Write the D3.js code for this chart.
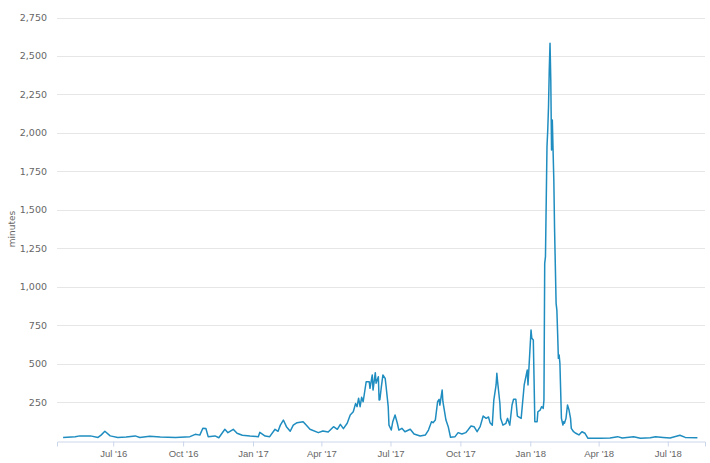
<!DOCTYPE html>
<html lang='en'>

<head>
    <meta charset='UTF-8'>
    <title>minutes</title>
    <script src='https://d3js.org/d3.v7.min.js' charset='utf-8'></script>
    <style>
        body {
            margin: 0px;
            overflow: hidden;
            background: #ffffff;
            font-family: 'Lucida Grande', 'DejaVu Sans', sans-serif;
        }

        #chart text {
            fill: #666666;
            font-size: 9.5px;
        }
    </style>
</head>

<body>
    <div id='chart'></div>
    <script>
        'use strict';

        const days = [
            '2016-04-26', '2016-05-12', '2016-05-18', '2016-06-01', '2016-06-11', '2016-06-15', '2016-06-20',
            '2016-06-27', '2016-07-07', '2016-07-18', '2016-07-30', '2016-08-05', '2016-08-18', '2016-09-01',
            '2016-09-21', '2016-10-10', '2016-10-17', '2016-10-23', '2016-10-27', '2016-10-31', '2016-11-03',
            '2016-11-12', '2016-11-17', '2016-11-25', '2016-11-29', '2016-12-06', '2016-12-11', '2016-12-18',
            '2016-12-28', '2017-01-08', '2017-01-10', '2017-01-17', '2017-01-23', '2017-01-30', '2017-02-03',
            '2017-02-06', '2017-02-10', '2017-02-14', '2017-02-19', '2017-02-23', '2017-02-28', '2017-03-08',
            '2017-03-12', '2017-03-17', '2017-03-28', '2017-04-03', '2017-04-10', '2017-04-17', '2017-04-22',
            '2017-04-26', '2017-04-30', '2017-05-05', '2017-05-09', '2017-05-13', '2017-05-16', '2017-05-18',
            '2017-05-20', '2017-05-22', '2017-05-24', '2017-05-26', '2017-05-30', '2017-06-03', '2017-06-04',
            '2017-06-07', '2017-06-08', '2017-06-11', '2017-06-12', '2017-06-15', '2017-06-16', '2017-06-17',
            '2017-06-19', '2017-06-21', '2017-06-24', '2017-06-25', '2017-06-28', '2017-06-29', '2017-07-02',
            '2017-07-04', '2017-07-07', '2017-07-10', '2017-07-12', '2017-07-16', '2017-07-20', '2017-07-27',
            '2017-08-01', '2017-08-09', '2017-08-16', '2017-08-20', '2017-08-24', '2017-08-26', '2017-08-29',
            '2017-09-01', '2017-09-03', '2017-09-04', '2017-09-07', '2017-09-08', '2017-09-12', '2017-09-15',
            '2017-09-18', '2017-09-24', '2017-09-28', '2017-10-03', '2017-10-08', '2017-10-11', '2017-10-15',
            '2017-10-19', '2017-10-23', '2017-10-27', '2017-10-31', '2017-11-04', '2017-11-07', '2017-11-09',
            '2017-11-12', '2017-11-14', '2017-11-17', '2017-11-18', '2017-11-19', '2017-11-22', '2017-11-23',
            '2017-11-26', '2017-11-30', '2017-12-02', '2017-12-05', '2017-12-08', '2017-12-10', '2017-12-13',
            '2017-12-15', '2017-12-20', '2017-12-24', '2017-12-28', '2017-12-29', '2018-01-02', '2018-01-03',
            '2018-01-05', '2018-01-06', '2018-01-07', '2018-01-10', '2018-01-11', '2018-01-14', '2018-01-16',
            '2018-01-18', '2018-01-19', '2018-01-20', '2018-01-21', '2018-01-23', '2018-01-24', '2018-01-25',
            '2018-01-26', '2018-01-27', '2018-01-28', '2018-01-29', '2018-01-30', '2018-01-31', '2018-02-01',
            '2018-02-02', '2018-02-04', '2018-02-05', '2018-02-06', '2018-02-07', '2018-02-08', '2018-02-09',
            '2018-02-11', '2018-02-13', '2018-02-14', '2018-02-15', '2018-02-17', '2018-02-19', '2018-02-21',
            '2018-02-23', '2018-02-24', '2018-02-27', '2018-03-02', '2018-03-06', '2018-03-10', '2018-03-14',
            '2018-03-18', '2018-03-23', '2018-04-03', '2018-04-16', '2018-04-26', '2018-05-02', '2018-05-17',
            '2018-05-26', '2018-06-08', '2018-06-15', '2018-06-25', '2018-07-04', '2018-07-17', '2018-07-24',
            '2018-08-09'
        ];

        const minutes = [
            20, 25, 30, 30, 20, 35, 60,
            30, 20, 22, 30, 20, 28, 22,
            20, 25, 40, 35, 80, 78, 25,
            30, 18, 73, 51, 73, 47, 34,
            29, 25, 53, 29, 25, 73, 60,
            100, 133, 90, 60, 100, 116, 122,
            100, 73, 51, 62, 55, 90, 73,
            105, 77, 112, 166, 187, 240, 220,
            275, 220, 281, 252, 382, 382, 339,
            426, 328, 441, 372, 415, 263, 265,
            350, 426, 404, 361, 220, 100, 68,
            122, 166, 112, 68, 79, 57, 73,
            42, 29, 36, 68, 122, 116, 133,
            252, 268, 230, 328, 252, 133, 90,
            21, 25, 51, 42, 51, 68, 94,
            90, 57, 90, 159, 144, 153, 116,
            100, 263, 361, 437, 382, 242, 144,
            100, 112, 144, 100, 231, 268, 268,
            159, 144, 361, 458, 361, 718, 664,
            653, 393, 122, 122, 187, 198, 220,
            209, 263, 1152, 1195, 1910, 2019, 2170,
            2409, 2582, 2344, 1889, 2084, 1889, 1694,
            1369, 892, 848, 697, 534, 556, 502,
            144, 101, 122, 112, 144, 231, 198,
            144, 79, 57, 47, 36, 57, 47,
            14, 14, 14, 16, 25, 16, 25,
            14, 18, 25, 20, 16, 34, 20,
            18
        ];

        const yTicks = [250, 500, 750, 1000, 1250, 1500, 1750, 2000, 2250, 2500, 2750];
        const xTicks = ['2016-07-01', '2016-10-01', '2017-01-01', '2017-04-01', '2017-07-01',
            '2017-10-01', '2018-01-01', '2018-04-01', '2018-07-01'];
        const yTitle = 'minutes';

        const parse = d3.utcParse('%Y-%m-%d');
        const data = days.map((d, i) => ({ date: parse(d), value: minutes[i] }));

        const width = 710, height = 463;
        const margin = { top: 17.5, right: 5, bottom: 22.5, left: 57 };

        const svg = d3.select('#chart')
            .append('svg')
            .attr('width', width)
            .attr('height', height);

        const x = d3.scaleUtc()
            .domain([parse('2016-04-18'), parse('2018-08-19')])
            .range([margin.left, width - margin.right]);

        const y = d3.scaleLinear()
            .domain([0, 2750])
            .range([height - margin.bottom, margin.top]);

        // grid lines
        svg.append('g')
            .selectAll('line')
            .data(yTicks)
            .enter()
            .append('line')
            .attr('x1', margin.left)
            .attr('x2', width - margin.right)
            .attr('y1', d => Math.round(y(d)) + 0.5)
            .attr('y2', d => Math.round(y(d)) + 0.5)
            .attr('stroke', '#e6e6e6');

        // y labels
        svg.append('g')
            .selectAll('text')
            .data(yTicks)
            .enter()
            .append('text')
            .attr('x', 47)
            .attr('y', d => y(d) + 3.5)
            .attr('text-anchor', 'end')
            .text(d3.format(','));

        svg.append('text')
            .attr('transform', `translate(15, ${(margin.top + height - margin.bottom) / 2}) rotate(-90)`)
            .attr('text-anchor', 'middle')
            .style('font-size', '9px')
            .text(yTitle);

        // x axis
        const xAxis = svg.append('g')
            .attr('transform', `translate(0, ${Math.round(y(0)) + 0.5})`)
            .call(d3.axisBottom(x)
                .tickValues(xTicks.map(parse))
                .tickFormat(d3.utcFormat("%b '%y"))
                .tickSize(5)
                .tickPadding(4));
        xAxis.select('.domain').attr('stroke', '#ccd6eb');
        xAxis.selectAll('.tick line').attr('stroke', '#ccd6eb');
        xAxis.selectAll('text').style('font-family', null);

        const line = d3.line()
            .x(d => x(d.date))
            .y(d => y(d.value));

        svg.append('path')
            .datum(data)
            .attr('fill', 'none')
            .attr('stroke', '#1f8dc0')
            .attr('stroke-width', 1.5)
            .attr('stroke-linejoin', 'round')
            .attr('d', line);
    </script>
</body>

</html>
